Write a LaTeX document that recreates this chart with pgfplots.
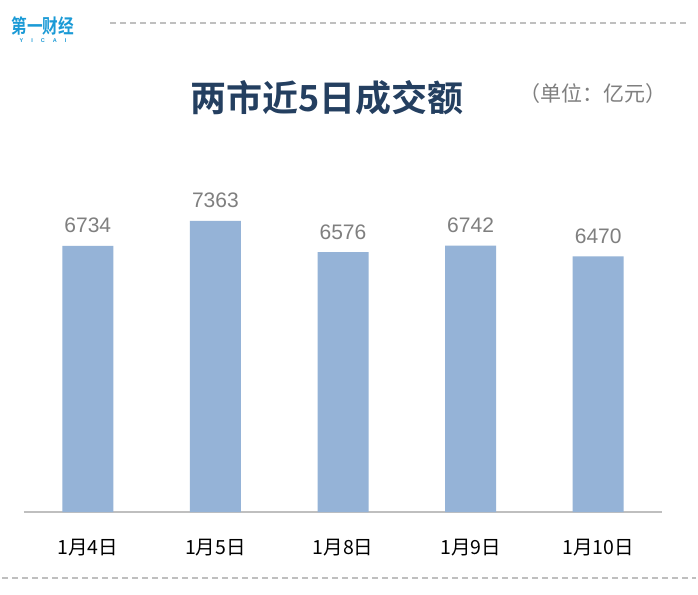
\documentclass[border=0pt]{standalone}
\usepackage{pgfplots}
\pgfplotsset{compat=1.18}
\usepackage{fontspec}
\setmainfont{Liberation Sans}
\newfontfamily\cjk{Noto Sans CJK SC}
\newfontfamily\cjkb{Noto Sans CJK SC Bold}
\definecolor{barblue}{HTML}{95B3D7}
\definecolor{titleblue}{HTML}{243F60}
\definecolor{valgray}{HTML}{7F7F7F}
\definecolor{linegray}{HTML}{BFBFBF}
\definecolor{logoblue}{HTML}{1A9AD6}
\begin{document}
\begin{tikzpicture}[x=1pt,y=1pt]
\path[use as bounding box, fill=white] (0,0) rectangle (698,594);
% dashed separators
\draw[linegray, line width=1.5pt, dash pattern=on 6pt off 4pt] (110,571) -- (688,571);
\draw[linegray, line width=1.5pt, dash pattern=on 6pt off 4pt] (2,16) -- (696,16);
% logo
\node[font=\cjkb\fontsize{17}{17}\selectfont, text=logoblue, inner sep=0, xscale=0.92, yscale=1.15] at (43,568) {第一财经};
\node[font=\bfseries\fontsize{5.5}{5.5}\selectfont, text=logoblue, inner sep=0] at (43,553) {Y\hspace{8pt}I\hspace{8pt}C\hspace{8pt}A\hspace{8pt}I};
% title
\node[font=\cjkb\fontsize{36}{36}\selectfont, text=titleblue, inner sep=0] at (327,496) {两市近5日成交额};
\node[font=\cjk\fontsize{21}{21}\selectfont, text=valgray, inner sep=0] at (593,500) {（单位：亿元）};
\begin{axis}[
  at={(24pt,82pt)}, anchor=south west,
  scale only axis, width=638pt, height=355.7pt,
  xmin=-0.5, xmax=4.5, ymin=0, ymax=9000,
  axis y line=none,
  axis x line*=bottom,
  x axis line style={linegray, line width=1.5pt, -},
  xtick=data,
  xticklabels={1月4日,1月5日,1月8日,1月9日,1月10日},
  xticklabel style={font=\cjk\fontsize{19.5}{19.5}\selectfont, text=black, anchor=base, inner sep=0pt, yshift=-42pt},
  major tick length=0pt,
  clip=false,
  ybar, bar width=51pt,
  /pgf/number format/1000 sep={},
  /pgf/number format/assume math mode=true,
  nodes near coords,
  every node near coord/.append style={font=\fontsize{21}{21}\selectfont, text=valgray, anchor=base, inner sep=0pt, yshift=13pt},
]
\addplot[fill=barblue, draw=none] coordinates {(0,6734) (1,7363) (2,6576) (3,6742) (4,6470)};
\end{axis}
\end{tikzpicture}
\end{document}
